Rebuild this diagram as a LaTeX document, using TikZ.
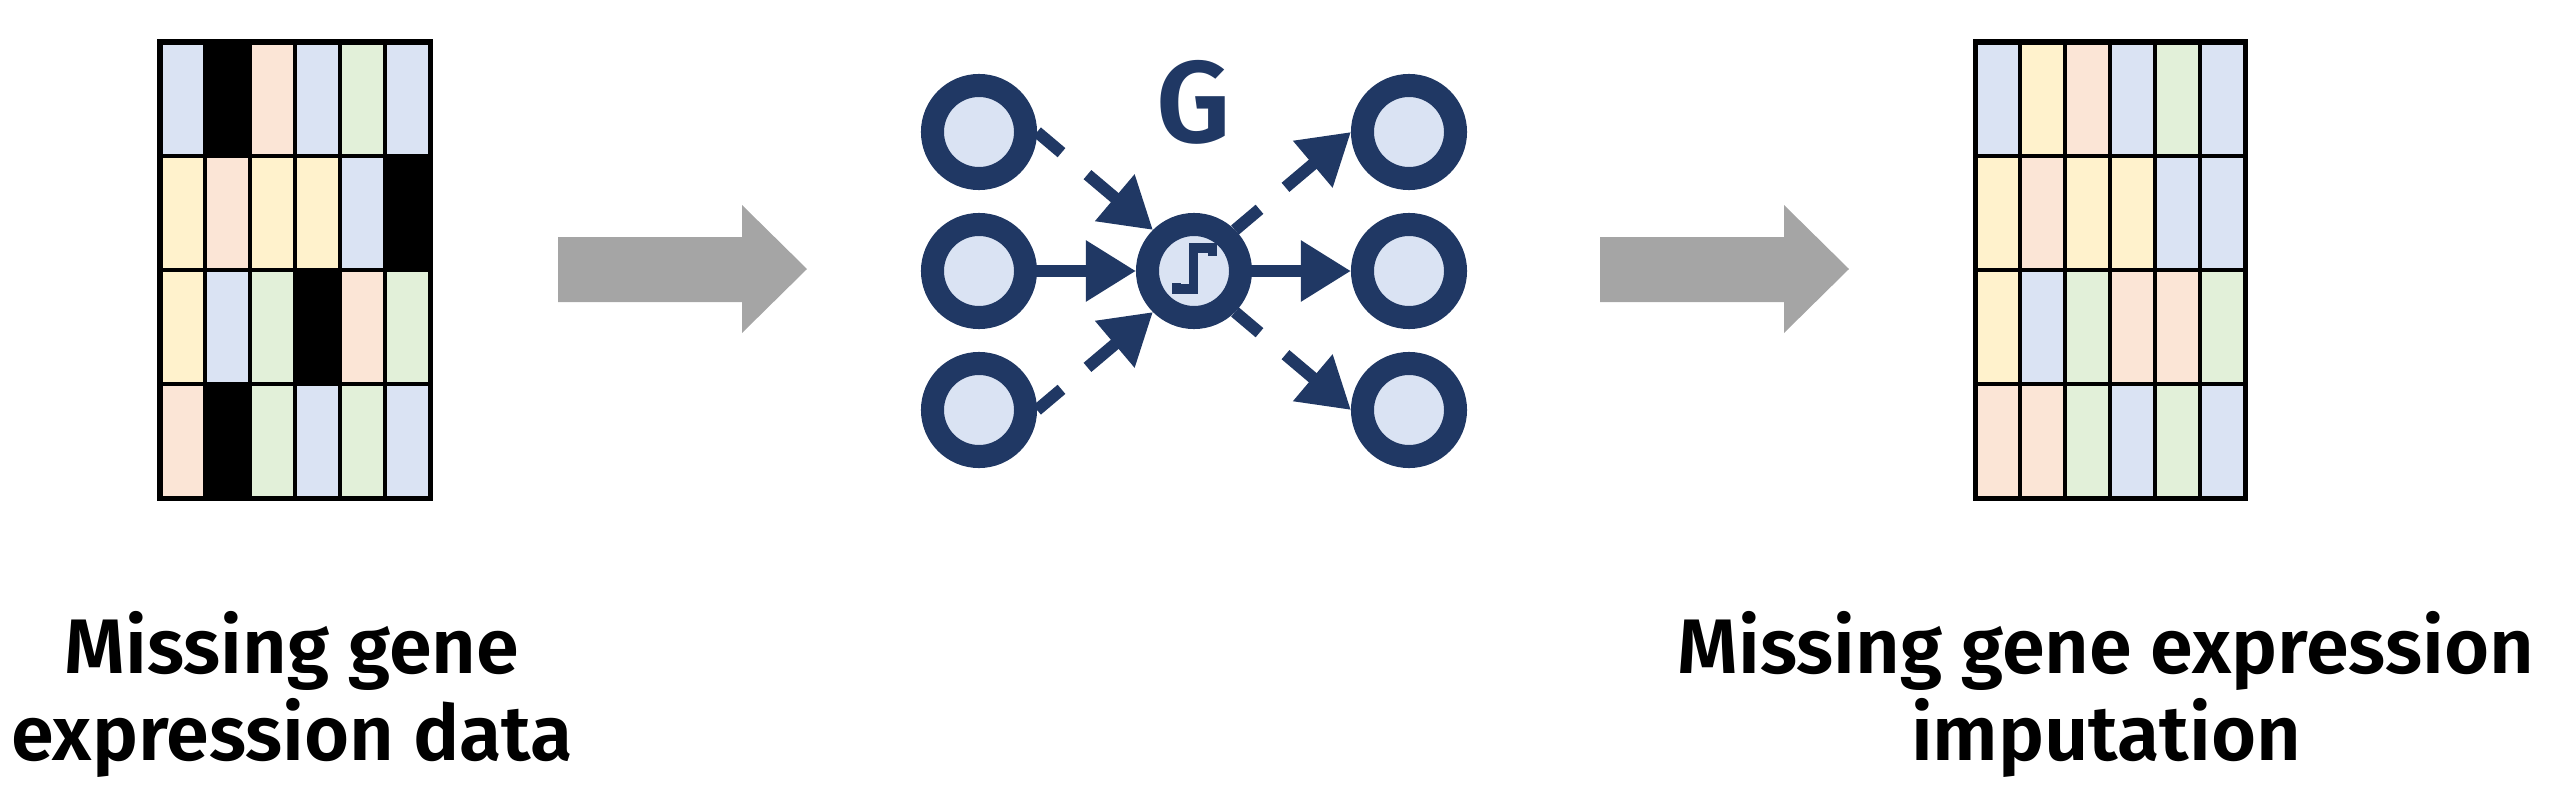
\documentclass[tikz,border=0pt]{standalone}
\usepackage{fontspec}
\setmainfont{Fira Sans}[BoldFont={Fira Sans SemiBold}]
\usetikzlibrary{arrows.meta,positioning}

\definecolor{navy}{HTML}{203864}
\definecolor{cellB}{HTML}{DAE3F3}
\definecolor{cellP}{HTML}{FBE5D6}
\definecolor{cellY}{HTML}{FFF2CC}
\definecolor{cellG}{HTML}{E2F0D9}
\definecolor{cellK}{HTML}{000000}
\definecolor{arrowgray}{HTML}{A5A5A5}

\tikzset{
  neuron/.style={circle,draw=navy,fill=cellB,line width=0.23cm,minimum size=0.93cm,inner sep=0pt},
  link/.style={draw=navy,line width=0.12cm,-{Triangle[length=0.5cm,width=0.58cm]}},
  brokenlink/.style={link,dash pattern=on 0.32cm off 0.34cm on 5cm},
  stepline/.style={draw=navy,line width=0.09cm,line join=miter},
  cell/.style={draw=black,line width=0.035cm},
  caption/.style={font=\bfseries\fontsize{22pt}{24.7pt}\selectfont,align=center,inner sep=0pt},
}

\begin{document}
\begin{tikzpicture}[x=0.01cm,y=-0.01cm]
    \useasboundingbox (0,0) rectangle (2553,803);

    % Input matrix with missing values
    \foreach \row [count=\r] in {{cellB,cellK,cellP,cellB,cellG,cellB},{cellY,cellP,cellY,cellY,cellB,cellK},{cellY,cellB,cellG,cellK,cellP,cellG},{cellP,cellK,cellG,cellB,cellG,cellB}}
        \foreach \c [count=\k] in \row
            \draw[cell,fill=\c] ({160+45*(\k-1)},{42+114*(\r-1)}) rectangle ++(45,114);
    \draw[black,line width=0.05cm] (160,42) rectangle (430,498);

    % Imputed matrix
    \foreach \row [count=\r] in {{cellB,cellY,cellP,cellB,cellG,cellB},{cellY,cellP,cellY,cellY,cellB,cellB},{cellY,cellB,cellG,cellP,cellP,cellG},{cellP,cellP,cellG,cellB,cellG,cellB}}
        \foreach \c [count=\k] in \row
            \draw[cell,fill=\c] ({1975+45*(\k-1)},{42+114*(\r-1)}) rectangle ++(45,114);
    \draw[black,line width=0.05cm] (1975,42) rectangle (2245,498);

    % Big grey arrows
    \foreach \x in {558,1600}
        \fill[arrowgray] (\x,237) -- ++(184,0) -- ++(0,-32) -- ++(65,64) -- ++(-65,64) -- ++(0,-31) -- ++(-184,0) -- cycle;

    % Generator network: first the neurons
    \foreach \pos/\name in {{(979,132)/x1}, {(979,271)/x2}, {(979,410)/x3}, {(1194,271)/h}, {(1409,132)/y1}, {(1409,271)/y2}, {(1409,410)/y3}}
        \node[neuron] (\name) at \pos {};
    \node[text=navy,font=\bfseries\fontsize{33pt}{36pt}\selectfont,anchor=base,inner sep=0pt] (gen) at (1194,142) {G};

    % Activation symbol
    \draw[stepline] ([shift={(-18,12)}]h.center) -- ++(0,6) -- ++(17,0) -- ++(0,-41) -- ++(19,0) -- ++(0,8);

    % Then the connections
    \foreach \source/\dest in {x2.east/h.west, h.east/y2.west}
        \path[link] (\source) -- (\dest);
    \foreach \source/\dest in {x1.east/h.north west, x3.east/h.south west, h.north east/y1.west, h.south east/y3.west}
        \path[brokenlink] (\source) -- (\dest);

    % Captions
    \node[caption,anchor=base] (src) at (292,760) {Missing gene\\expression data};
    \node[caption,anchor=base] (dst) at (2106,760) {Missing gene expression\\imputation};
\end{tikzpicture}
\end{document}
